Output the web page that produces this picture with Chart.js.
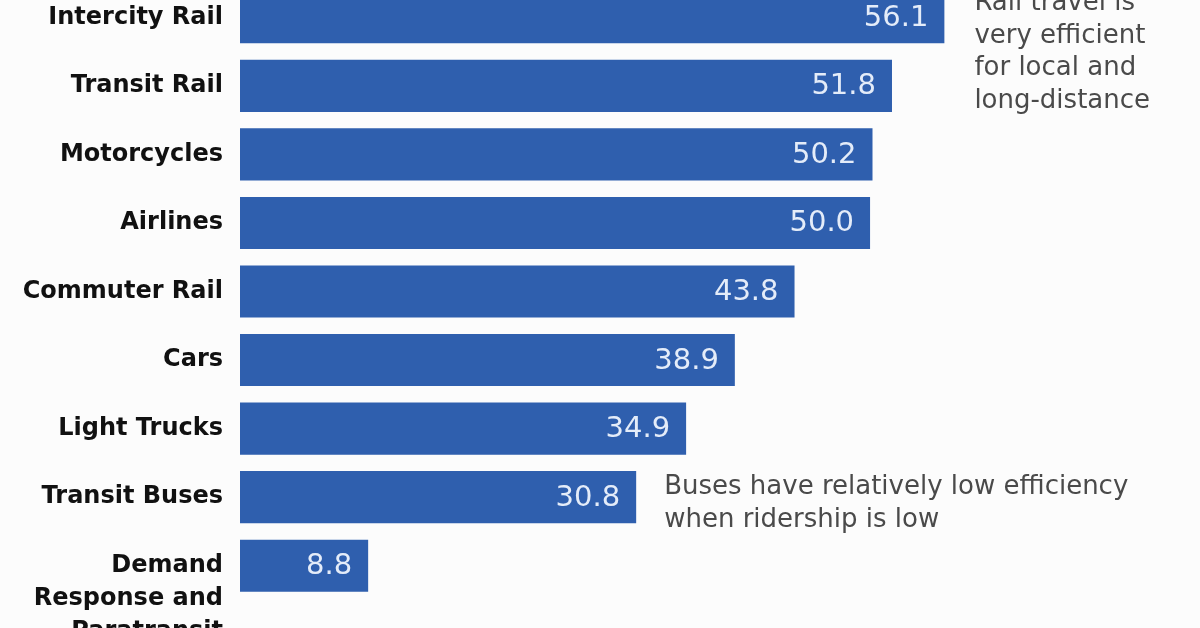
<!DOCTYPE html>
<html>
<head>
<meta charset="utf-8">
<script src="https://cdn.jsdelivr.net/npm/chart.js@4.4.1/dist/chart.umd.min.js"></script>
<style>
  html, body { margin: 0; padding: 0; background: #fcfcfc; overflow: hidden; }
  #wrap { position: absolute; left: 0; top: -40px; width: 1200px; height: 700px; }
</style>
</head>
<body>
<div id="wrap"><canvas id="myChart"></canvas></div>
<script>
// Data for the chart
const modes = [
    'Intercity Rail',
    'Transit Rail',
    'Motorcycles',
    'Airlines',
    'Commuter Rail',
    'Cars',
    'Light Trucks',
    'Transit Buses',
    ['', '', 'Demand', 'Response and', 'Paratransit'] // blank lines push the label down
];
const efficiency = [56.1, 51.8, 50.2, 50.0, 43.8, 38.9, 34.9, 30.8, 8.8];

// Notes next to the bars
const railNote = ['Rail travel is', 'very efficient', 'for local and', 'long-distance'];
const busNote = ['Buses have relatively low efficiency', 'when ridership is low'];

const xMin = -1.72;
const xMax = 73.8;

// Plugin that writes the values inside the bars and the two notes
const barText = {
    id: 'barText',
    afterDatasetsDraw(chart) {
        const ctx = chart.ctx;
        const meta = chart.getDatasetMeta(0);
        ctx.save();
        ctx.font = '29px "DejaVu Sans"';
        ctx.fillStyle = '#e4ecf9';
        ctx.textAlign = 'right';
        ctx.textBaseline = 'middle';
        meta.data.forEach((bar, i) => {
            ctx.fillText(efficiency[i].toFixed(1), bar.x - 16, bar.y + 1);
        });

        ctx.font = '26px "DejaVu Sans"';
        ctx.fillStyle = '#4a4a4a';
        ctx.textAlign = 'left';
        ctx.textBaseline = 'alphabetic';
        const rail = meta.data[0];
        railNote.forEach((line, k) => {
            ctx.fillText(line, rail.x + 30, rail.y - 7 + k * 32.5);
        });
        const bus = meta.data[7];
        busNote.forEach((line, k) => {
            ctx.fillText(line, bus.x + 28, bus.y - 3 + k * 33);
        });
        ctx.restore();
    }
};

function createChart() {
    const ctx = document.getElementById('myChart').getContext('2d');
    new Chart(ctx, {
        type: 'bar',
        data: {
            labels: modes,
            datasets: [{
                data: efficiency,
                base: xMin,
                backgroundColor: '#2f5fae',
                borderWidth: 0,
                barPercentage: 0.76,
                categoryPercentage: 1.0
            }]
        },
        options: {
            indexAxis: 'y',
            responsive: true,
            maintainAspectRatio: false,
            animation: false,
            layout: {
                padding: { left: 0, right: 40, top: 23, bottom: 60 }
            },
            plugins: {
                legend: { display: false },
                tooltip: { enabled: false }
            },
            scales: {
                x: {
                    display: false,
                    min: xMin,
                    max: xMax
                },
                y: {
                    afterFit(scale) {
                        scale.width = 240;
                        scale.paddingTop = 0;
                        scale.paddingBottom = 0;
                    },
                    grid: { display: false, drawTicks: false },
                    border: { display: false },
                    ticks: {
                        autoSkip: false,
                        padding: 17,
                        color: '#111111',
                        font: { family: 'DejaVu Sans', size: 24, weight: 'bold', lineHeight: 1.375 }
                    }
                }
            }
        },
        plugins: [barText]
    });
}

window.onload = createChart;
</script>
</body>
</html>
